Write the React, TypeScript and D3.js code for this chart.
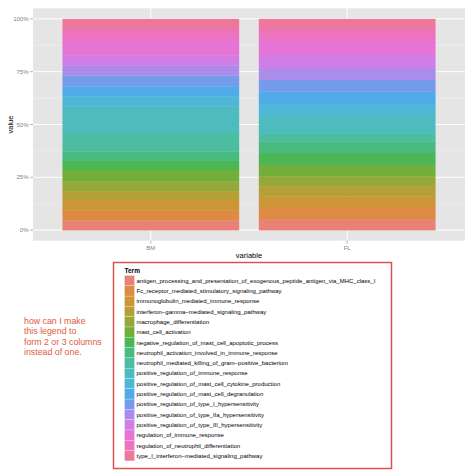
import React from 'react';
import * as d3 from 'd3';

const terms = [
  'antigen_processing_and_presentation_of_exogenous_peptide_antigen_via_MHC_class_I',
  'Fc_receptor_mediated_stimulatory_signaling_pathway',
  'immunoglobulin_mediated_immune_response',
  'interferon\u2212gamma\u2212mediated_signaling_pathway',
  'macrophage_differentiation',
  'mast_cell_activation',
  'negative_regulation_of_mast_cell_apoptotic_process',
  'neutrophil_activation_involved_in_immune_response',
  'neutrophil_mediated_killing_of_gram\u2212positive_bacterium',
  'positive_regulation_of_immune_response',
  'positive_regulation_of_mast_cell_cytokine_production',
  'positive_regulation_of_mast_cell_degranulation',
  'positive_regulation_of_type_I_hypersensitivity',
  'positive_regulation_of_type_IIa_hypersensitivity',
  'positive_regulation_of_type_III_hypersensitivity',
  'regulation_of_immune_response',
  'regulation_of_neutrophil_differentiation',
  'type_I_interferon\u2212mediated_signaling_pathway',
];

const variables = ['BM', 'FL'];

// share of each term (percent), bottom to top
const bmValues = [4.6, 4.7, 5.1, 3.9, 4.7, 5.5, 4.3, 4.4, 8.7, 12.6, 4.7, 4.7, 5.1, 4.7, 4.7, 7.9, 4.7, 4.7];
const flValues = [5.2, 5.7, 5.1, 4.7, 4.7, 5.5, 5.5, 5.5, 3.9, 8.7, 5.5, 5.5, 5.5, 5.5, 6.3, 7.1, 5.1, 4.7];

const yTicks = [0, 0.25, 0.5, 0.75, 1];
const yMinor = [0.125, 0.375, 0.625, 0.875];

const note = ['how can I make', 'this legend to', 'form 2 or 3 columns', 'instead of one.'];

// ggplot hue palette (polarLUV -> sRGB), then muted a little like the screenshot
function hueColor(h: number, c = 100, l = 65) {
  const hr = (h * Math.PI) / 180;
  const U = c * Math.cos(hr);
  const V = c * Math.sin(hr);
  const Xn = 95.047, Yn = 100, Zn = 108.883;
  const Y = Yn * Math.pow((l + 16) / 116, 3);
  const den = Xn + 15 * Yn + 3 * Zn;
  const u = U / (13 * l) + (4 * Xn) / den;
  const v = V / (13 * l) + (9 * Yn) / den;
  const X = (9 * Y * u) / (4 * v);
  const Z = -X / 3 - 5 * Y + (3 * Y) / v;
  const x = X / 100, y = Y / 100, z = Z / 100;
  const lin = [
    3.240479 * x - 1.53715 * y - 0.498535 * z,
    -0.969256 * x + 1.875992 * y + 0.041556 * z,
    0.055648 * x - 0.204043 * y + 1.057311 * z,
  ];
  const g = lin.map((t) => {
    const s = t <= 0.0031308 ? 12.92 * t : 1.055 * Math.pow(t, 1 / 2.4) - 0.055;
    return Math.round(Math.max(0, Math.min(1, s)) * 255);
  });
  const hc = d3.hcl(d3.rgb(g[0], g[1], g[2]));
  hc.c = Math.min(hc.c * 0.8, 62);
  return d3.rgb(hc).clamp().formatHex();
}

const FONT = '"Liberation Sans", Arial, Helvetica, sans-serif';

export default function App() {
  const W = 474;
  const H = 474;
  const panel = { left: 33, right: 465, top: 8.3, bottom: 240.7 };

  const colors = terms.map((_, i) => hueColor(15 + (i * 360) / terms.length));
  const color = d3.scaleOrdinal<string, string>().domain(terms).range(colors);

  const rows = variables.map((v, vi) => {
    const r: any = { variable: v };
    terms.forEach((t, i) => {
      r[t] = vi === 0 ? bmValues[i] : flValues[i];
    });
    return r;
  });

  const series = d3.stack<any>().keys(terms).offset(d3.stackOffsetExpand)(rows);

  // discrete x with ggplot's 0.6 expansion on each side
  const xc = d3
    .scaleLinear()
    .domain([0.4, variables.length + 0.6])
    .range([panel.left, panel.right]);
  const barHalf = 0.45;

  const y = d3
    .scaleLinear()
    .domain([-0.05, 1.05])
    .range([panel.bottom, panel.top]);

  const pct = d3.format('.0%');

  const legend = { x: 113.5, y: 262.5, w: 278, h: 206, keyX: 124.5, keyY: 275.5, keyH: 10.3, keyW: 10 };

  return (
    <svg
      width={W}
      height={H}
      style={{ position: 'absolute', left: 0, top: 0, background: '#fff' }}
      fontFamily={FONT}
    >
      <rect x={0} y={0} width={W} height={H} fill="#fff" />
      {/* panel */}
      <rect
        x={panel.left}
        y={panel.top}
        width={panel.right - panel.left}
        height={panel.bottom - panel.top}
        fill="#E5E5E5"
      />
      {yMinor.map((t) => (
        <line key={'mn' + t} x1={panel.left} x2={panel.right} y1={y(t)} y2={y(t)} stroke="#F2F2F2" strokeWidth={0.5} />
      ))}
      {yTicks.map((t) => (
        <line key={'mj' + t} x1={panel.left} x2={panel.right} y1={y(t)} y2={y(t)} stroke="#fff" strokeWidth={1} />
      ))}
      {variables.map((v, i) => (
        <line key={'vx' + v} x1={xc(i + 1)} x2={xc(i + 1)} y1={panel.top} y2={panel.bottom} stroke="#fff" strokeWidth={1} />
      ))}

      {/* stacked bars */}
      {series.map((s) => (
        <g key={s.key} fill={color(s.key)}>
          {s.map((d, i) => (
            <rect
              key={i}
              x={xc(i + 1 - barHalf)}
              width={xc(i + 1 + barHalf) - xc(i + 1 - barHalf)}
              y={y(d[1])}
              height={y(d[0]) - y(d[1]) + 0.3}
            />
          ))}
        </g>
      ))}

      {/* y axis */}
      {yTicks.map((t) => (
        <g key={'yt' + t}>
          <line x1={panel.left - 3} x2={panel.left} y1={y(t)} y2={y(t)} stroke="#7F7F7F" strokeWidth={0.6} />
          <text
            x={panel.left - 4.5}
            y={y(t)}
            dy="0.35em"
            textAnchor="end"
            fontSize={6}
            fill="#7F7F7F"
          >
            {pct(t)}
          </text>
        </g>
      ))}
      <text
        transform={`translate(10,${(panel.top + panel.bottom) / 2}) rotate(-90)`}
        textAnchor="middle"
        dy="0.35em"
        fontSize={7.5}
        fill="#000"
      >
        value
      </text>

      {/* x axis */}
      {variables.map((v, i) => (
        <g key={'xt' + v}>
          <line x1={xc(i + 1)} x2={xc(i + 1)} y1={panel.bottom} y2={panel.bottom + 3} stroke="#7F7F7F" strokeWidth={0.6} />
          <text x={xc(i + 1)} y={panel.bottom + 7} dy="0.35em" textAnchor="middle" fontSize={6} fill="#7F7F7F">
            {v}
          </text>
        </g>
      ))}
      <text
        x={(panel.left + panel.right) / 2}
        y={255.5}
        dy="0.35em"
        textAnchor="middle"
        fontSize={7.5}
        fill="#000"
      >
        variable
      </text>

      {/* legend */}
      <rect x={legend.x} y={legend.y} width={legend.w} height={legend.h} fill="none" stroke="#D9534F" strokeWidth={1.5} />
      <text x={legend.keyX} y={270.5} dy="0.35em" fontSize={6.5} fontWeight="bold" fill="#000">
        Term
      </text>
      {terms.map((t, i) => (
        <g key={'lg' + i}>
          <rect
            x={legend.keyX}
            y={legend.keyY + i * legend.keyH}
            width={legend.keyW}
            height={legend.keyH}
            fill={color(t)}
            stroke="#F2F2F2"
            strokeWidth={0.3}
          />
          <text
            x={legend.keyX + legend.keyW + 2}
            y={legend.keyY + (i + 0.5) * legend.keyH}
            dy="0.35em"
            fontSize={6}
            fill="#000"
          >
            {t}
          </text>
        </g>
      ))}

      {/* annotation */}
      {note.map((line, i) => (
        <text key={'nt' + i} x={24} y={321 + i * 10.3} dy="0.35em" fontSize={8.8} fill="#E05A43">
          {line}
        </text>
      ))}
    </svg>
  );
}
